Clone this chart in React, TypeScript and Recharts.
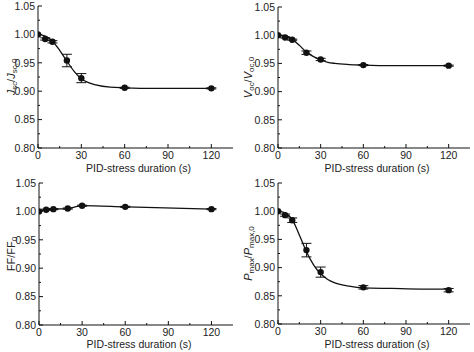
import React from "react";
import { ComposedChart, ErrorBar, Line, Scatter, XAxis, YAxis } from "recharts";

// measured points (PID stress duration in s, normalised to t = 0)
const durations = [0, 5, 10, 20, 30, 60, 120];
const jsc = [1.0, 0.992, 0.987, 0.954, 0.923, 0.906, 0.905];
const jscErr = [0, 0.002, 0.002, 0.011, 0.008, 0.001, 0.001];
const voc = [1.0, 0.996, 0.992, 0.969, 0.957, 0.947, 0.946];
const vocErr = [0, 0.001, 0.001, 0.003, 0.002, 0.001, 0.001];
const ff = [1.0, 1.003, 1.004, 1.005, 1.01, 1.008, 1.004];
const ffErr = [0, 0.001, 0.001, 0.001, 0.001, 0.001, 0.001];
const pmax = [1.0, 0.993, 0.984, 0.931, 0.892, 0.865, 0.86];
const pmaxErr = [0, 0.002, 0.004, 0.012, 0.009, 0.003, 0.003];

// fitted curves
const fitDurations = [0, 5, 10, 15, 20, 25, 30, 35, 40, 50, 60, 80, 100, 120];
const jscFit = [1.0, 0.997, 0.988, 0.972, 0.953, 0.935, 0.922, 0.915, 0.911, 0.907, 0.906, 0.905, 0.905, 0.905];
const vocFit = [1.0, 0.999, 0.993, 0.982, 0.97, 0.962, 0.956, 0.952, 0.95, 0.948, 0.947, 0.946, 0.946, 0.946];
const pmaxFit = [1.0, 0.997, 0.985, 0.958, 0.928, 0.905, 0.889, 0.879, 0.873, 0.867, 0.864, 0.863, 0.862, 0.862];

const xMajor = [0, 30, 60, 90, 120];
const xTicks = [0, 15, 30, 45, 60, 75, 90, 105, 120];
const yMajor = [0.8, 0.85, 0.9, 0.95, 1.0, 1.05];
const yTicks = [0.8, 0.825, 0.85, 0.875, 0.9, 0.925, 0.95, 0.975, 1.0, 1.025, 1.05];

const FONT = "Arial, 'Liberation Sans', sans-serif";
const INK = "#111";
const TEXT = "#222";

type Side = "bottom" | "left" | "top" | "right";

const isMajor = (side: Side, v: number) =>
  side === "bottom" || side === "top"
    ? xMajor.includes(v)
    : yMajor.some((m) => Math.abs(m - v) < 1e-6);

function makeTick(side: Side) {
  return (props: any) => {
    const { x, y, payload } = props;
    const v = payload.value as number;
    const major = isMajor(side, v);
    const len = major ? 4 : 2;
    if (side === "bottom") {
      return (
        <g>
          <line x1={x} y1={y} x2={x} y2={y - len} stroke={INK} />
          {major && (
            <text x={x} y={y + 10.5} textAnchor="middle" fontSize={10.5} fontFamily={FONT} fill={TEXT}>
              {v}
            </text>
          )}
        </g>
      );
    }
    if (side === "left") {
      return (
        <g>
          <line x1={x} y1={y} x2={x + len} y2={y} stroke={INK} />
          {major && (
            <text x={x - 3} y={y + 3.8} textAnchor="end" fontSize={10.5} fontFamily={FONT} fill={TEXT}>
              {v.toFixed(2)}
            </text>
          )}
        </g>
      );
    }
    if (side === "top") {
      return <line x1={x} y1={y} x2={x} y2={y + len} stroke={INK} />;
    }
    return <line x1={x} y1={y} x2={x - len} y2={y} stroke={INK} />;
  };
}

const sub = (s: string) => (
  <tspan fontSize={8} dy={2.5}>
    {s}
  </tspan>
);

const jscTitle = (
  <>
    <tspan fontStyle="italic">J</tspan>
    {sub("sc")}
    <tspan dy={-2.5}>/</tspan>
    <tspan fontStyle="italic">J</tspan>
    {sub("sc,0")}
  </>
);
const vocTitle = (
  <>
    <tspan fontStyle="italic">V</tspan>
    {sub("oc")}
    <tspan dy={-2.5}>/</tspan>
    <tspan fontStyle="italic">V</tspan>
    {sub("oc,0")}
  </>
);
const ffTitle = (
  <>
    <tspan>FF/FF</tspan>
    {sub("0")}
  </>
);
const pmaxTitle = (
  <>
    <tspan fontStyle="italic">P</tspan>
    {sub("max")}
    <tspan dy={-2.5}>/</tspan>
    <tspan fontStyle="italic">P</tspan>
    {sub("max,0")}
  </>
);

type PanelProps = {
  left: number;
  top: number;
  marginTop: number;
  yWidth: number;
  xHeight: number;
  title: React.ReactNode;
  values: number[];
  errors: number[];
  fit?: number[];
};

function Panel({ left, top, marginTop, yWidth, xHeight, title, values, errors, fit }: PanelProps) {
  const points = durations.map((x, i) => ({ x, y: values[i], err: errors[i] }));
  // FF has no fit, its line just joins the points
  const curve = fit ? fitDurations.map((x, i) => ({ x, y: fit[i] })) : points;

  const yLabel = (props: any) => {
    const vb = props.viewBox ?? { x: 0, y: marginTop, height: 176 - marginTop - xHeight };
    const cx = vb.x + 11;
    const cy = vb.y + vb.height / 2;
    return (
      <text
        x={cx}
        y={cy}
        transform={`rotate(-90 ${cx} ${cy})`}
        textAnchor="middle"
        dominantBaseline="central"
        fontSize={11}
        fontFamily={FONT}
        fill={TEXT}
      >
        {title}
      </text>
    );
  };

  const xLabel = (props: any) => {
    const vb = props.viewBox ?? { x: yWidth, y: 176 - xHeight, width: 233 - yWidth, height: xHeight };
    return (
      <text
        x={vb.x + vb.width / 2 + 3}
        y={vb.y + vb.height - 4}
        textAnchor="middle"
        fontSize={10.5}
        fontFamily={FONT}
        fill={TEXT}
      >
        PID-stress duration (s)
      </text>
    );
  };

  return (
    <div style={{ position: "absolute", left, top }}>
      <ComposedChart width={237} height={176} margin={{ top: marginTop, right: 4, left: 0, bottom: 0 }}>
        <XAxis
          dataKey="x"
          type="number"
          domain={[0, 135]}
          ticks={xTicks}
          interval={0}
          allowDataOverflow
          height={xHeight}
          tickSize={0}
          tickMargin={0}
          tickLine={false}
          axisLine={{ stroke: INK }}
          tick={makeTick("bottom")}
          label={xLabel}
        />
        <XAxis
          xAxisId="top"
          orientation="top"
          type="number"
          domain={[0, 135]}
          ticks={xTicks}
          interval={0}
          allowDataOverflow
          height={0}
          tickSize={0}
          tickMargin={0}
          tickLine={false}
          axisLine={{ stroke: INK }}
          tick={makeTick("top")}
        />
        <YAxis
          dataKey="y"
          type="number"
          domain={[0.8, 1.05]}
          ticks={yTicks}
          interval={0}
          allowDataOverflow
          width={yWidth}
          tickSize={0}
          tickMargin={0}
          tickLine={false}
          axisLine={{ stroke: INK }}
          tick={makeTick("left")}
          label={yLabel}
        />
        <YAxis
          yAxisId="right"
          orientation="right"
          type="number"
          domain={[0.8, 1.05]}
          ticks={yTicks}
          interval={0}
          allowDataOverflow
          width={0}
          tickSize={0}
          tickMargin={0}
          tickLine={false}
          axisLine={{ stroke: INK }}
          tick={makeTick("right")}
        />
        <Line
          data={curve}
          dataKey="y"
          type="monotone"
          stroke={INK}
          strokeWidth={1.3}
          dot={false}
          activeDot={false}
          isAnimationActive={false}
        />
        <Scatter
          data={points}
          dataKey="y"
          isAnimationActive={false}
          shape={(p: any) => <circle cx={p.cx} cy={p.cy} r={3.2} fill={INK} />}
        >
          <ErrorBar dataKey="err" direction="y" width={5} stroke={INK} strokeWidth={1} isAnimationActive={false} />
        </Scatter>
      </ComposedChart>
    </div>
  );
}

export default function App() {
  return (
    <div style={{ position: "absolute", left: 0, top: 0, width: 474, height: 352, background: "#fff" }}>
      <Panel left={0} top={0} marginTop={6} yWidth={38} xHeight={28} title={jscTitle} values={jsc} errors={jscErr} fit={jscFit} />
      <Panel left={237} top={0} marginTop={7} yWidth={41} xHeight={28} title={vocTitle} values={voc} errors={vocErr} fit={vocFit} />
      <Panel left={0} top={176} marginTop={7} yWidth={39} xHeight={27} title={ffTitle} values={ff} errors={ffErr} />
      <Panel left={237} top={176} marginTop={7} yWidth={41} xHeight={28} title={pmaxTitle} values={pmax} errors={pmaxErr} fit={pmaxFit} />
    </div>
  );
}
